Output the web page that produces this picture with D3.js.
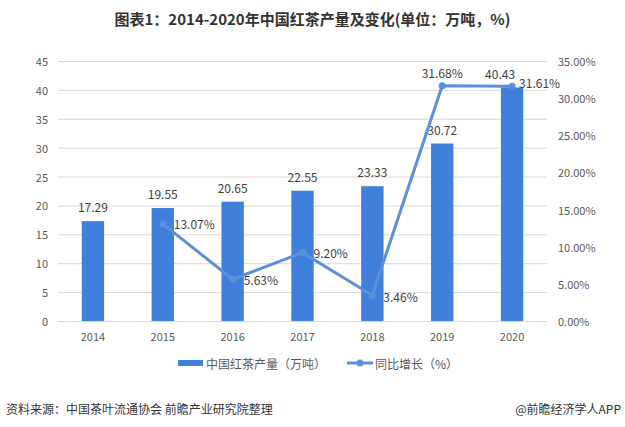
<!DOCTYPE html>
<html>
<head>
<meta charset="utf-8">
<script src="https://cdn.jsdelivr.net/npm/d3@7"></script>
<style>
  body { margin: 0; background: #fff; }
  text { font-family: "Microsoft YaHei", "Noto Sans CJK SC", sans-serif; }
</style>
</head>
<body>
<script>
var years = ["2014", "2015", "2016", "2017", "2018", "2019", "2020"];
var output = [17.29, 19.55, 20.65, 22.55, 23.33, 30.72, 40.43];
var growth = [null, 13.07, 5.63, 9.20, 3.46, 31.68, 31.61];
var leftTicks = [0, 5, 10, 15, 20, 25, 30, 35, 40, 45];
var rightTicks = [0, 5, 10, 15, 20, 25, 30, 35];

var width = 625, height = 427;

var svg = d3.select("body").append("svg")
    .attr("width", width)
    .attr("height", height);

var x = d3.scaleBand()
    .domain(years)
    .range([58, 547])
    .paddingInner(0.68)
    .paddingOuter(0.34);

var y = d3.scaleLinear().domain([0, 45]).range([321, 61]);
var y2 = d3.scaleLinear().domain([0, 35]).range([321, 61]);

// title
svg.append("text")
    .attr("x", width / 2)
    .attr("y", 25)
    .attr("text-anchor", "middle")
    .style("font-size", "15px")
    .style("font-weight", "bold")
    .style("fill", "#333")
    .text("图表1：2014-2020年中国红茶产量及变化(单位：万吨，%)");

// grid
svg.append("g")
    .selectAll("line")
    .data(leftTicks)
    .enter()
    .append("line")
    .attr("x1", 58).attr("x2", 547)
    .attr("y1", function(d){ return y(d) + 0.5; })
    .attr("y2", function(d){ return y(d) + 0.5; })
    .style("stroke", "#d9d9d9")
    .style("stroke-width", 1);

// left axis labels
svg.append("g")
    .selectAll("text")
    .data(leftTicks)
    .enter()
    .append("text")
    .attr("x", 48)
    .attr("y", function(d){ return y(d); })
    .attr("text-anchor", "end")
    .attr("dominant-baseline", "central")
    .style("font-size", "11px")
    .style("fill", "#595959")
    .text(function(d){ return d; });

// right axis labels
svg.append("g")
    .selectAll("text")
    .data(rightTicks)
    .enter()
    .append("text")
    .attr("x", 558)
    .attr("y", function(d){ return y2(d); })
    .attr("dominant-baseline", "central")
    .style("font-size", "11px")
    .style("fill", "#595959")
    .text(function(d){ return d.toFixed(2) + "%"; });

// x labels
svg.append("g")
    .selectAll("text")
    .data(years)
    .enter()
    .append("text")
    .attr("x", function(d){ return x(d) + x.bandwidth() / 2; })
    .attr("y", 336)
    .attr("text-anchor", "middle")
    .attr("dominant-baseline", "central")
    .style("font-size", "11px")
    .style("fill", "#595959")
    .text(function(d){ return d; });

// bars
svg.append("g")
    .selectAll("rect")
    .data(output)
    .enter()
    .append("rect")
    .attr("x", function(d, i){ return x(years[i]); })
    .attr("y", function(d){ return y(d); })
    .attr("width", x.bandwidth())
    .attr("height", function(d){ return y(0) - y(d); })
    .style("fill", "#3f80dc");

// bar labels (last one nudged left to clear the line label)
svg.append("g")
    .selectAll("text")
    .data(output)
    .enter()
    .append("text")
    .attr("x", function(d, i){ return x(years[i]) + x.bandwidth() / 2 - (i == 6 ? 12 : 0); })
    .attr("y", function(d, i){ return i == 6 ? 79 : y(d) - 9; })
    .attr("text-anchor", "middle")
    .style("font-size", "12px")
    .style("fill", "#404040")
    .text(function(d){ return d.toFixed(2); });

// growth line
var pts = [];
growth.forEach(function(d, i){
    if (d !== null) pts.push({ year: years[i], v: d });
});
var cx = function(d){ return x(d.year) + x.bandwidth() / 2; };

var line = d3.line()
    .x(cx)
    .y(function(d){ return y2(d.v); });

svg.append("path")
    .datum(pts)
    .attr("d", line)
    .style("fill", "none")
    .style("stroke", "#5b8fd8")
    .style("stroke-width", 3);

svg.append("g")
    .selectAll("circle")
    .data(pts)
    .enter()
    .append("circle")
    .attr("cx", cx)
    .attr("cy", function(d){ return y2(d.v); })
    .attr("r", 3.5)
    .style("fill", "#5b8fd8");

// growth labels: offsets per point
var lblPos = { "2015": [11, 0, "start"], "2016": [11, 0, "start"], "2017": [11, 0, "start"],
               "2018": [11, 1, "start"], "2019": [0, -13, "middle"], "2020": [7, -4, "start"] };
svg.append("g")
    .selectAll("text")
    .data(pts)
    .enter()
    .append("text")
    .attr("x", function(d){ return cx(d) + lblPos[d.year][0]; })
    .attr("y", function(d){ return y2(d.v) + lblPos[d.year][1]; })
    .attr("text-anchor", function(d){ return lblPos[d.year][2]; })
    .attr("dominant-baseline", "central")
    .style("font-size", "12px")
    .style("fill", "#404040")
    .text(function(d){ return d.v.toFixed(2) + "%"; });

// legend
var leg = svg.append("g");
leg.append("rect")
    .attr("x", 178).attr("y", 360)
    .attr("width", 25).attr("height", 6)
    .style("fill", "#3f80dc");
leg.append("text")
    .attr("x", 206).attr("y", 363)
    .attr("dominant-baseline", "central")
    .style("font-size", "12px")
    .style("fill", "#595959")
    .text("中国红茶产量（万吨）");
leg.append("line")
    .attr("x1", 347).attr("x2", 373)
    .attr("y1", 363).attr("y2", 363)
    .style("stroke", "#5b8fd8")
    .style("stroke-width", 3);
leg.append("circle")
    .attr("cx", 360).attr("cy", 363).attr("r", 3.5)
    .style("fill", "#5b8fd8");
leg.append("text")
    .attr("x", 375).attr("y", 363)
    .attr("dominant-baseline", "central")
    .style("font-size", "12px")
    .style("fill", "#595959")
    .text("同比增长（%）");

// source
svg.append("text")
    .attr("x", 6).attr("y", 408)
    .attr("dominant-baseline", "central")
    .style("font-size", "12px")
    .style("fill", "#333")
    .text("资料来源：中国茶叶流通协会 前瞻产业研究院整理");
svg.append("text")
    .attr("x", 621).attr("y", 408)
    .attr("text-anchor", "end")
    .attr("dominant-baseline", "central")
    .style("font-size", "12px")
    .style("fill", "#333")
    .text("@前瞻经济学人APP");
</script>
</body>
</html>
